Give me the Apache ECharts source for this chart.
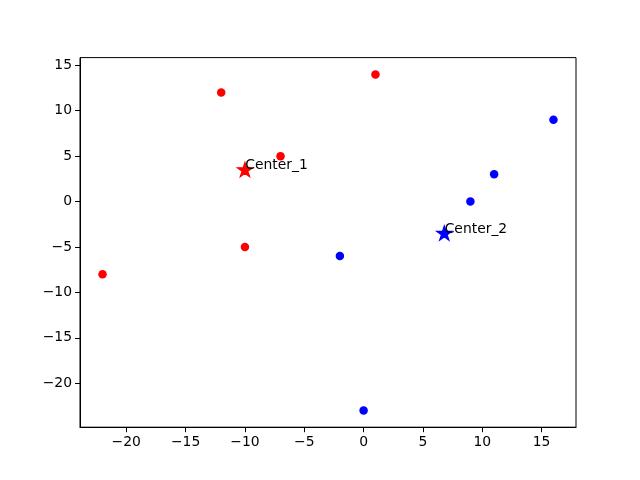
<!DOCTYPE html>
<html>
<head>
<meta charset="utf-8">
<script src="https://cdn.jsdelivr.net/npm/echarts@6/dist/echarts.min.js"></script>
<style>html,body{margin:0;padding:0;background:#fff;}#c{width:640px;height:480px;}</style>
</head>
<body>
<div id="c"></div>
<script>
var redX = [-12, 1, -7, -10, -22];
var redY = [12, 14, 5, -5, -8];
var blueX = [16, 11, 9, -2, 0];
var blueY = [9, 3, 0, -6, -23];
var centerNames = ['Center_1', 'Center_2'];
var centerX = [-10, 6.8];
var centerY = [3.6, -3.4];
var centerColors = ['#ff0000', '#0000ff'];
var xTicks = [-20, -15, -10, -5, 0, 5, 10, 15];
var yTicks = [-20, -15, -10, -5, 0, 5, 10, 15];

var star = 'path://M100 0L122.45 69.1L195.1 69.1L136.3 111.8L158.8 180.9L100 138.2L41.2 180.9L63.7 111.8L4.9 69.1L77.55 69.1Z';
function pts(xs, ys) { return xs.map(function (x, i) { return [x, ys[i]]; }); }
function fmt(v) { return v < 0 ? '\u2212' + Math.abs(v) : String(v); }
var font = 'DejaVu Sans';

var chart = echarts.init(document.getElementById('c'), null, {renderer: 'canvas'});
var axisCommon = {
  type: 'value',
  splitLine: {show: false},
  axisLine: {show: true, onZero: false, lineStyle: {color: '#000', width: 1}},
  axisTick: {show: true, inside: false, length: 5, lineStyle: {color: '#000', width: 1}},
  axisLabel: {color: '#000', fontFamily: font, fontSize: 13.9, margin: 8, formatter: fmt}
};
var xAxis = echarts.util.merge({min: -23.9, max: 17.9}, axisCommon, true);
xAxis.axisTick = Object.assign({}, axisCommon.axisTick, {customValues: xTicks});
xAxis.axisLabel = Object.assign({}, axisCommon.axisLabel, {customValues: xTicks});
var yAxis = echarts.util.merge({min: -24.85, max: 15.85}, axisCommon, true);
yAxis.axisTick = Object.assign({}, axisCommon.axisTick, {customValues: yTicks});
yAxis.axisLabel = Object.assign({}, axisCommon.axisLabel, {customValues: yTicks});

chart.setOption({
  animation: false,
  grid: {left: 80, right: 64, top: 57.6, bottom: 52.8, show: true, borderColor: '#000', borderWidth: 1, containLabel: false},
  xAxis: xAxis,
  yAxis: yAxis,
  series: [
    {type: 'scatter', data: pts(redX, redY), symbol: 'circle', symbolSize: 8.5, itemStyle: {color: '#ff0000', opacity: 1}},
    {type: 'scatter', data: pts(blueX, blueY), symbol: 'circle', symbolSize: 8.5, itemStyle: {color: '#0000ff', opacity: 1}},
    {type: 'scatter', z: 3,
      data: centerNames.map(function (n, i) {
        return {name: n, value: [centerX[i], centerY[i]], itemStyle: {color: centerColors[i], borderColor: centerColors[i], borderWidth: 1.2}};
      }),
      symbol: star, symbolSize: [15, 14.3], symbolOffset: [0, 0.7],
      itemStyle: {opacity: 1},
      label: {show: true, formatter: '{b}', position: [8.5, 7], align: 'left', verticalAlign: 'bottom',
        color: '#000', fontFamily: font, fontSize: 13.9, lineHeight: 14, offset: [0, 4]}
    }
  ]
});
</script>
</body>
</html>
